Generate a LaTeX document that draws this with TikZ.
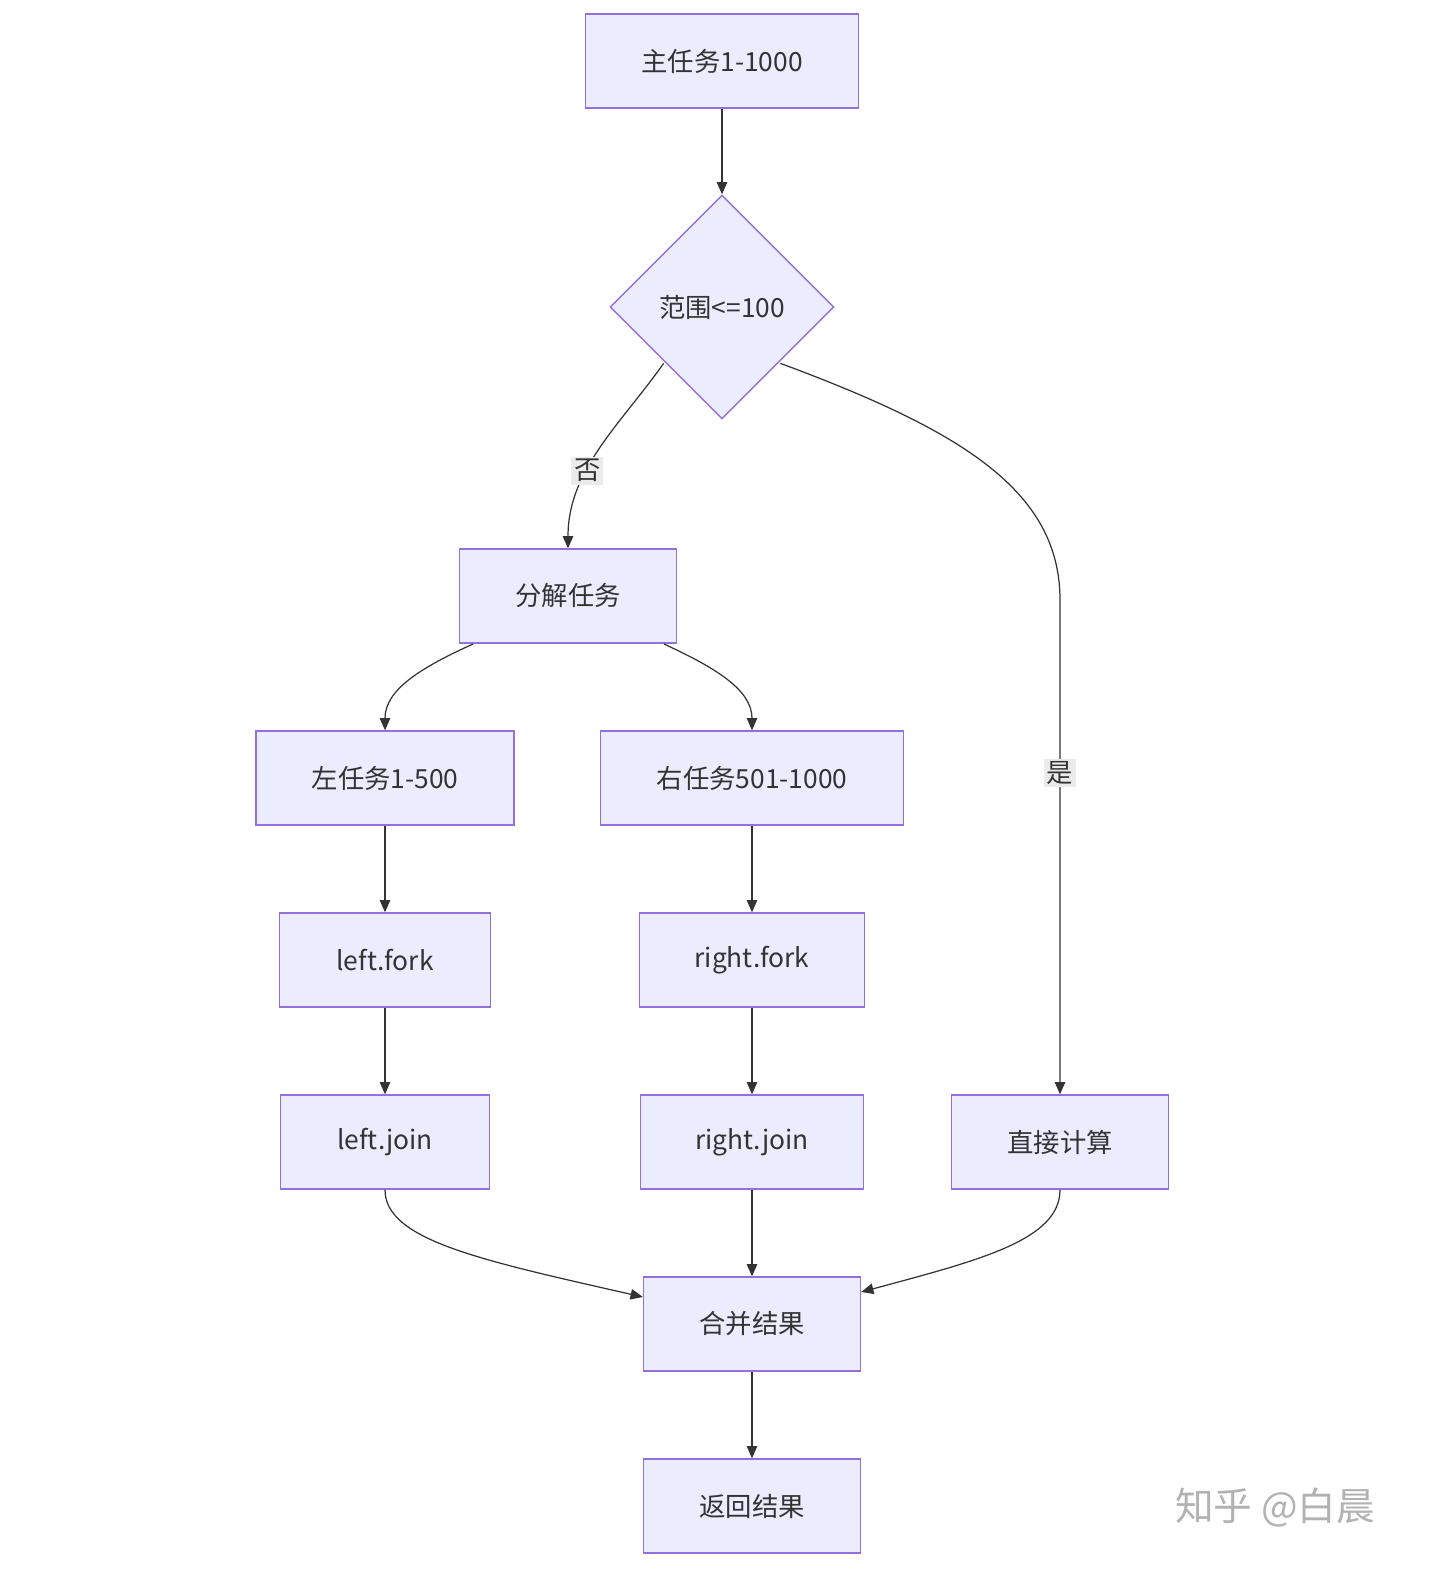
\documentclass[tikz,border=0pt]{standalone}
\usepackage{fontspec}
\setmainfont{Fira Sans}
\newfontfamily\cjk{Noto Sans CJK SC}
\usetikzlibrary{positioning, shapes.geometric, arrows.meta}
\definecolor{boxfill}{HTML}{ECECFF}
\definecolor{boxline}{HTML}{9370DB}
\definecolor{edgecol}{HTML}{333333}
\tikzset{
  box/.style={rectangle, draw=boxline, fill=boxfill, line width=0.8pt, minimum height=1.88cm, inner sep=0pt, font=\cjk\fontsize{15}{18}\selectfont, text=edgecol},
  dec/.style={diamond, draw=boxline, fill=boxfill, line width=0.8pt, minimum width=4.48cm, minimum height=4.48cm, inner sep=0pt, font=\cjk\fontsize{15}{18}\selectfont, text=edgecol},
  link/.style={draw=edgecol, line width=0.7pt, -{Triangle[length=7pt,width=6pt]}},
  tag/.style={fill=black!8, inner sep=1.5pt, font=\cjk\fontsize{15}{18}\selectfont, text=edgecol}
}
\begin{document}
\begin{tikzpicture}[x=0.02cm, y=-0.02cm]
      \useasboundingbox (0,0) rectangle (1440,1585);
      \node[box, minimum width=5.46cm] (main) at (722,61) {主任务1-1000};
      \node[dec] (range) at (722,307) {范围<=100};
      \node[box, minimum width=4.34cm] (split) at (568,596) {分解任务};
      \node[box, minimum width=5.16cm] (lefttask) at (385,778) {左任务1-500};
      \node[box, minimum width=6.06cm] (righttask) at (752,778) {右任务501-1000};
      \node[box, minimum width=4.22cm] (lfork) at (385,960) {left.fork};
      \node[box, minimum width=4.5cm] (rfork) at (752,960) {right.fork};
      \node[box, minimum width=4.18cm] (ljoin) at (385,1142) {left.join};
      \node[box, minimum width=4.46cm] (rjoin) at (752,1142) {right.join};
      \node[box, minimum width=4.34cm] (direct) at (1060,1142) {直接计算};
      \node[box, minimum width=4.34cm] (merge) at (752,1324) {合并结果};
      \node[box, minimum width=4.34cm] (ret) at (752,1506) {返回结果};
      \node[font=\cjk\fontsize{22}{26}\selectfont, text=black!30] (mark) at (1275,1508) {知乎 @白晨};

      \draw[link] (main) -- (range);
      \draw[link] (range.south west) ++(-2,0) .. controls (620,425) and (568,470) .. node[tag, pos=0.62] {否} (split.north);
      \draw[link] (range.south east) ++(2,0) .. controls (960,430) and (1060,490) .. (1060,600) -- node[tag, pos=0.35] {是} (direct.north);
      \draw[link] (473,644) .. controls (420,668) and (385,690) .. (lefttask.north);
      \draw[link] (664,644) .. controls (716,668) and (752,690) .. (righttask.north);
      \draw[link] (lefttask) -- (lfork);
      \draw[link] (righttask) -- (rfork);
      \draw[link] (lfork) -- (ljoin);
      \draw[link] (rfork) -- (rjoin);
      \draw[link] (ljoin.south) .. controls (385,1240) and (480,1260) .. (merge.west |- 0,1297);
      \draw[link] (rjoin) -- (merge);
      \draw[link] (direct.south) .. controls (1060,1240) and (980,1260) .. (merge.east |- 0,1292);
      \draw[link] (merge) -- (ret);
\end{tikzpicture}
\end{document}
